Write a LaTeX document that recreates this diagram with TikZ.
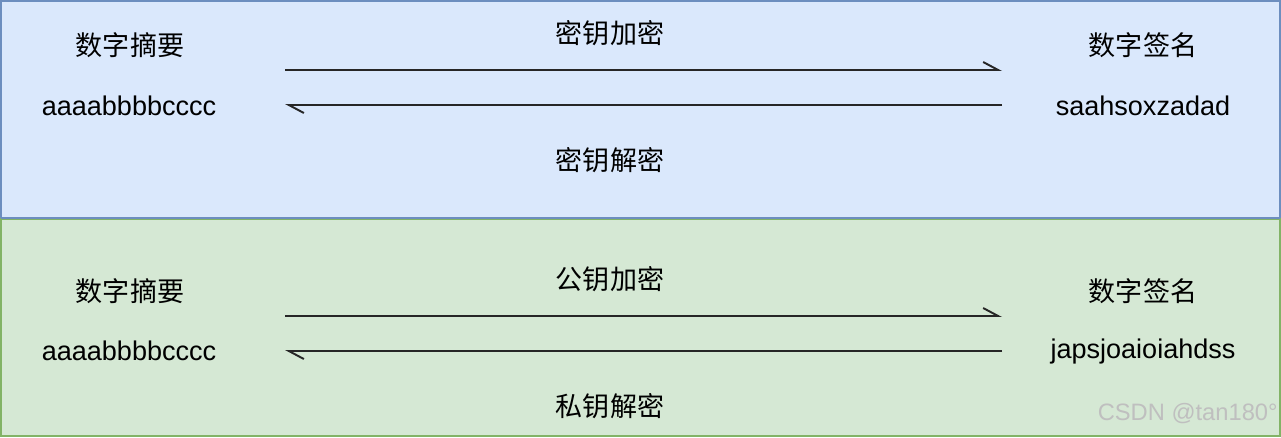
\documentclass[tikz,border=0pt]{standalone}
\usepackage{fontspec}
\setmainfont{Liberation Sans}
\newfontfamily\cjk{Noto Sans CJK SC}
\usetikzlibrary{arrows.meta, positioning}

\definecolor{blueFill}{HTML}{DAE8FC}
\definecolor{blueLine}{HTML}{6C8EBF}
\definecolor{greenFill}{HTML}{D5E8D4}
\definecolor{greenLine}{HTML}{82B366}

\begin{document}
\begin{tikzpicture}[
    x=0.02cm, y=-0.02cm,
    panel/.style={rectangle, draw, line width=1.2pt, inner sep=0pt, outer sep=0pt},
    label/.style={font=\fontsize{15.4}{18}\selectfont, inner sep=0pt, anchor=center},
    cn/.style={label, font=\cjk\fontsize{15.4}{18}\selectfont},
    arrow/.style={-{Straight Barb[harpoon, length=3mm, width=3.2mm, line width=1.1pt]}, line width=1.1pt, draw=black!85}
]
\useasboundingbox (0,0) rectangle (1281,437);

% panels
\node[panel, draw=blueLine, fill=blueFill, minimum width=1279*0.02cm, minimum height=217*0.02cm, anchor=north west] (top) at (1,1) {};
\node[panel, draw=greenLine, fill=greenFill, minimum width=1279*0.02cm, minimum height=217*0.02cm, anchor=north west] (bottom) at (1,219) {};
\draw[blueLine, line width=1.4pt] (top.south west) -- (top.south east);

% top: symmetric key
\node[cn] (digestA) at (130,45) {数字摘要};
\node[label] (hashA) at (129,106) {aaaabbbbcccc};
\node[cn] (signA) at (1143,45) {数字签名};
\node[label] (sigA) at (1143,106) {saahsoxzadad};
\node[cn] (encA) at (610,33) {密钥加密};
\node[cn] (decA) at (610,160) {密钥解密};
\coordinate (aL1) at (285,70);
\coordinate (aR1) at (1002,70);
\coordinate (aL2) at (285,105);
\coordinate (aR2) at (1002,105);
\draw[arrow] (aL1) -- (aR1);
\draw[arrow] (aR2) -- (aL2);

% bottom: public / private key
\node[cn] (digestB) at (130,291) {数字摘要};
\node[label] (hashB) at (129,351) {aaaabbbbcccc};
\node[cn] (signB) at (1143,291) {数字签名};
\node[label] (sigB) at (1143,351) {japsjoaioiahdss};
\node[cn] (encB) at (610,279) {公钥加密};
\node[cn] (decB) at (610,406) {私钥解密};
\coordinate (bL1) at (285,316);
\coordinate (bR1) at (1002,316);
\coordinate (bL2) at (285,351);
\coordinate (bR2) at (1002,351);
\draw[arrow] (bL1) -- (bR1);
\draw[arrow] (bR2) -- (bL2);

\node[label, anchor=east, text=black!25, font=\fontsize{13.5}{16}\selectfont] (mark) at (1278,414) {CSDN @tan180°};
\end{tikzpicture}
\end{document}
